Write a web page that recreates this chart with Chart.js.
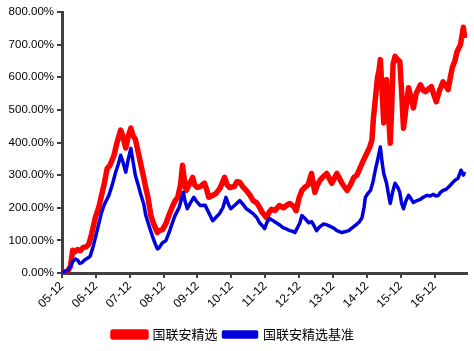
<!DOCTYPE html>
<html>
<head>
<meta charset="utf-8">
<script src="https://cdn.jsdelivr.net/npm/chart.js@4/dist/chart.umd.min.js"></script>
<style>
  html, body { margin: 0; padding: 0; background: #fff; }
  #wrap { width: 474px; height: 351px; }
</style>
</head>
<body>
<div id="wrap"><canvas id="navChart"></canvas></div>
<script>
// tick labels, one per December
const tickLabels = ['05-12', '06-12', '07-12', '08-12', '09-12', '10-12',
                    '11-12', '12-12', '13-12', '14-12', '15-12', '16-12'];

// months counted from 2005-12, with cumulative return (%)
const fundMonths = [0, 1, 2, 3, 3.8, 4.5, 5.5, 6.5, 7.5, 8.5, 9.5, 10.5, 11.8, 13, 14, 15, 16, 17, 18.4, 19.5,
  20.8, 21.5, 22.6, 23.5, 24.4, 25.2, 26, 27, 28, 29, 29.7, 30.5, 31.5, 32.5, 33.8, 34.4, 35.6, 36.8, 38, 39,
  40, 41, 42, 42.7, 43.3, 44, 45, 46.3, 47, 48, 49, 50.5, 51.3, 52, 53, 54.6, 56, 57.6, 58.5, 59.4,
  61, 62, 63, 64, 65.3, 66.5, 67.7, 69, 70, 71, 72.4, 73.3, 74.2, 75.5, 77, 78.5, 80, 80.7, 82, 83,
  84, 85, 86, 87.2, 88.4, 89.6, 90.5, 91.4, 92.5, 93.8, 94.7, 95.6, 96.5, 97.4, 98.3, 99.2, 100, 101, 102.2, 103.4,
  104.5, 105.7, 106.8, 108, 109, 109.8, 110.4, 111, 111.8, 112.3, 112.8, 113.4, 114, 114.6, 115, 115.6, 116.3, 116.8, 117.3, 118,
  118.8, 119.7, 120.3, 121, 121.8, 122.8, 123.6, 124.5, 125.5, 127, 128, 128.8, 130, 130.9, 131.8, 132.6, 133.8, 135, 135.9, 136.8,
  137.6, 138.3, 139.2, 140, 141.2, 142.2, 142.7];
const fundValues = [0, 3, 5, 20, 70, 65, 72, 68, 78, 80, 88, 120, 170, 200, 238, 275, 320, 330, 360, 400,
  438, 420, 383, 420, 444, 420, 410, 370, 330, 290, 260, 230, 176, 150, 124, 130, 133, 151, 180, 201,
  220, 232, 270, 330, 290, 253, 270, 293, 270, 262, 265, 275, 255, 232, 236, 244, 260, 293, 270, 262,
  265, 280, 278, 265, 253, 240, 222, 215, 201, 185, 170, 185, 195, 192, 207, 200, 210, 213, 205, 191,
  230, 253, 262, 270, 305, 247, 270, 284, 295, 305, 290, 275, 290, 305, 290, 275, 265, 253, 270, 293,
  300, 324, 345, 367, 385, 407, 480, 531, 600, 620, 654, 560, 460, 540, 593, 500, 398, 500, 640, 664,
  655, 648, 560, 444, 500, 568, 540, 506, 550, 577, 560, 556, 565, 571, 545, 525, 560, 586, 575, 562,
  600, 630, 650, 679, 700, 753, 720];

const benchMonths = [0, 1, 2, 3, 3.8, 4.8, 5.5, 6.2, 7, 8, 9, 10, 11, 12, 13, 14, 15, 16.6, 17.8, 19,
  20, 20.8, 21.6, 22.6, 23.5, 24.4, 25.2, 26, 27, 28, 29, 29.7, 31, 32, 33, 33.8, 34.4, 35.6, 36.8, 38,
  39, 40, 41.5, 43, 43.6, 44.4, 45.5, 46.7, 47.8, 49, 50.7, 52, 53.4, 54.5, 55.8, 57, 58.1, 59, 59.8, 61.5,
  63, 64.2, 65.3, 66.5, 67.7, 69, 70, 71, 71.8, 72.6, 73.5, 74.5, 75.9, 77, 78.3, 79.5, 80.7, 81.7, 82.5, 83.5,
  84.3, 85, 86, 87.4, 88.5, 89.3, 90.2, 91.4, 92.6, 93.8, 95, 96.2, 97.4, 98.3, 99.2, 100.4, 101.6, 102.8, 104.5, 105.5,
  106.3, 107, 107.5, 108.5, 109.3, 110.2, 111, 111.8, 112.8, 113.4, 114, 115, 115.7, 116.3, 117.2, 118, 119, 119.7, 120.3, 121,
  121.8, 122.8, 123.6, 124.5, 125.8, 127, 128, 129.3, 130.5, 131.6, 132.5, 133.4, 134.2, 135, 136, 136.8, 137.7, 138.5, 139.4, 140.3,
  141.4, 142.2, 142.7];
const benchValues = [0, 5, 8, 20, 35, 43, 40, 30, 31, 40, 45, 52, 80, 114, 150, 185, 210, 238, 270, 309,
  335, 361, 340, 309, 350, 382, 340, 299, 270, 238, 210, 176, 140, 114, 90, 74, 77, 93, 99, 125,
  151, 175, 201, 247, 220, 197, 215, 232, 218, 207, 208, 185, 160, 170, 182, 200, 232, 210, 197, 210,
  222, 210, 197, 190, 182, 170, 154, 145, 136, 155, 167, 162, 154, 148, 139, 135, 130, 128, 124, 140,
  154, 176, 168, 154, 157, 145, 130, 142, 150, 148, 143, 138, 130, 127, 124, 127, 130, 138, 150, 158,
  170, 200, 232, 245, 253, 280, 315, 345, 386, 340, 305, 275, 240, 213, 250, 275, 262, 247, 215, 197,
  220, 238, 228, 216, 222, 226, 232, 238, 236, 241, 236, 238, 248, 253, 256, 262, 270, 278, 285, 290,
  315, 300, 310];

const seriesNames = ['国联安精选', '国联安精选基准'];

const toPoints = (xs, ys) => xs.map((x, i) => ({ x: x, y: ys[i] }));

const axisColor = '#404040';
const tickFont = { family: 'Liberation Sans, Arial, sans-serif', size: 11.5 };

new Chart(document.getElementById('navChart'), {
    type: 'line',
    data: {
        datasets: [{
            label: seriesNames[0],
            data: toPoints(fundMonths, fundValues),
            borderColor: '#ff0000',
            backgroundColor: '#ff0000',
            borderWidth: 5.5,
            borderJoinStyle: 'round',
            pointRadius: 0,
            tension: 0,
            order: 2
        }, {
            label: seriesNames[1],
            data: toPoints(benchMonths, benchValues),
            borderColor: '#0000dd',
            backgroundColor: '#0000dd',
            borderWidth: 3.5,
            borderJoinStyle: 'round',
            pointRadius: 0,
            tension: 0,
            order: 1
        }]
    },
    options: {
        responsive: true,
        maintainAspectRatio: false,
        animation: false,
        layout: { padding: { top: 12, right: 7, left: 0, bottom: 0 } },
        plugins: {
            tooltip: { enabled: false },
            legend: {
                position: 'bottom',
                labels: {
                    boxWidth: 33,
                    boxHeight: 5,
                    padding: 6,
                    color: '#000',
                    font: { family: 'Noto Sans CJK SC, sans-serif', size: 13 },
                    sort: (a, b) => a.datasetIndex - b.datasetIndex
                }
            }
        },
        scales: {
            x: {
                type: 'linear',
                min: 0,
                max: 143.5,
                afterBuildTicks: (scale) => {
                    scale.ticks = tickLabels.map((_, i) => ({ value: i * 12 }));
                },
                afterFit: (scale) => { scale.height = 49; },
                ticks: {
                    minRotation: 45,
                    maxRotation: 45,
                    color: '#000',
                    font: { family: 'Liberation Sans, Arial, sans-serif', size: 12 },
                    padding: 1,
                    callback: (v) => tickLabels[Math.round(v / 12)] || ''
                },
                grid: { drawOnChartArea: false, color: axisColor, lineWidth: 2, tickLength: 5 },
                border: { color: axisColor, width: 3 }
            },
            y: {
                min: 0,
                max: 800,
                afterFit: (scale) => { scale.width = 62; },
                ticks: {
                    stepSize: 100,
                    color: '#000',
                    font: tickFont,
                    padding: 3,
                    callback: (v) => v.toFixed(2) + '%'
                },
                grid: { drawOnChartArea: false, color: axisColor, lineWidth: 2, tickLength: 5 },
                border: { color: axisColor, width: 3 }
            }
        }
    }
});
</script>
</body>
</html>
